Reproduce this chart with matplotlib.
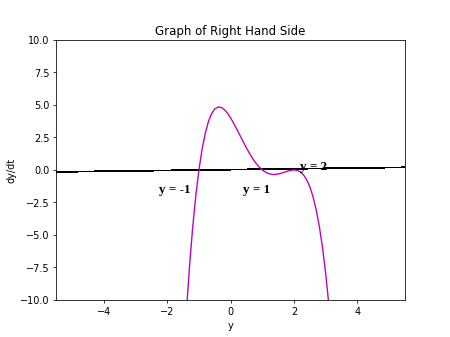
import matplotlib
matplotlib.use("Agg")
import matplotlib.pyplot as plt

# values
y_vals = [-1.5, -1.4, -1.3, -1.2, -1.1, -1.0, -0.9, -0.8, -0.7, -0.6,
          -0.5, -0.4, -0.3, -0.2, -0.1, 0.0, 0.1, 0.2, 0.3, 0.4,
          0.5, 0.6, 0.7, 0.8, 0.9, 1.0, 1.1, 1.2, 1.3, 1.4,
          1.5, 1.6, 1.7, 1.8, 1.9, 2.0, 2.1, 2.2, 2.3, 2.4,
          2.5, 2.6, 2.7, 2.8, 2.9, 3.0, 3.1, 3.2]
dydt_vals = [-15.31, -11.10, -7.51, -4.51, -2.02, 0.0, 1.60, 2.82, 3.72, 4.33,
             4.69, 4.84, 4.81, 4.65, 4.37, 4.00, 3.57, 3.11, 2.63, 2.15,
             1.69, 1.25, 0.86, 0.52, 0.23, 0.0, -0.17, -0.28, -0.34, -0.35,
             -0.31, -0.25, -0.17, -0.09, -0.03, 0.0, -0.03, -0.15, -0.39, -0.76,
             -1.31, -2.07, -3.08, -4.38, -6.00, -8.00, -10.42, -13.31]

# the near-flat black reference line
axis_x = [-5.5, 5.5]
axis_y = [-0.15, 0.2]

labels = ["y = -1", "y = 1", "y = 2"]
label_x = [-2.25, 0.38, 2.2]
label_y = [-1.7, -1.7, 0.05]

fig = plt.figure(figsize=(6.4, 4.8), dpi=450 / 6.4)
ax = fig.add_subplot(111)

ax.plot(axis_x, axis_y, color="black", linewidth=0.8, antialiased=False)
ax.plot(y_vals, dydt_vals, color="m", linewidth=1.4)

for txt, lx, ly in zip(labels, label_x, label_y):
    ax.text(lx, ly, txt, family="Liberation Serif", fontweight="bold", fontsize=13.5)

ax.set_xlim(-5.5, 5.5)
ax.set_ylim(-10, 10)
ax.set_title("Graph of Right Hand Side")
ax.set_xlabel("y")
ax.set_ylabel("dy/dt")

fig.savefig("out.png")
